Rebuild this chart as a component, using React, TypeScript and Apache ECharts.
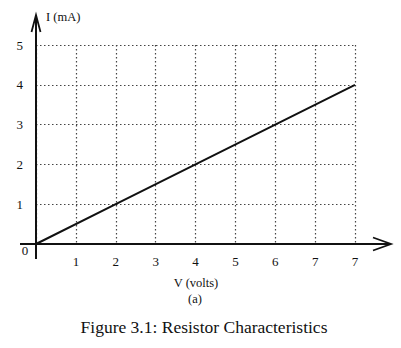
import React, { useEffect, useRef } from "react";
import * as echarts from "echarts";

const voltage = [0, 2, 4, 6, 8];
const current = [0, 1, 2, 3, 4];
const xTickLabels = ["", "1", "2", "3", "4", "5", "6", "7", "7"];
const yTickLabels = ["", "1", "2", "3", "4", "5"];

const SERIF = "'Liberation Serif', 'Times New Roman', serif";

export default function App() {
  const ref = useRef<HTMLDivElement>(null);
  useEffect(() => {
    if (!ref.current) return;
    const chart = echarts.init(ref.current, null, { renderer: "svg" });
    const gl = 36, gt = 45, gw = 319, gh = 199;
    const ax = gl, ay = gt + gh;
    const axisStyle = { stroke: "#111", lineWidth: 2 };
    chart.setOption({
      animation: false,
      backgroundColor: "#fff",
      grid: { left: gl, top: gt, width: gw, height: gh, containLabel: false },
      xAxis: {
        type: "value",
        min: 0,
        max: 8,
        interval: 1,
        axisLine: { show: false },
        axisTick: { show: false },
        splitLine: { show: true, lineStyle: { type: [1.5, 2.5], color: "#444", width: 1.2 } },
        axisLabel: {
          formatter: (v: number) => xTickLabels[Math.round(v)] ?? "",
          fontFamily: SERIF,
          fontSize: 13,
          color: "#111",
          margin: 11,
        },
      },
      yAxis: {
        type: "value",
        min: 0,
        max: 5,
        interval: 1,
        axisLine: { show: false },
        axisTick: { show: false },
        splitLine: { show: true, lineStyle: { type: [1.5, 2.5], color: "#444", width: 1.2 } },
        axisLabel: {
          formatter: (v: number) => yTickLabels[Math.round(v)] ?? "",
          fontFamily: SERIF,
          fontSize: 13,
          color: "#111",
          margin: 13,
          padding: [3, 0, 0, 0],
        },
      },
      series: [
        {
          type: "line",
          data: voltage.map((v, i) => [v, current[i]]),
          symbol: "none",
          lineStyle: { color: "#111", width: 2 },
          z: 5,
        },
      ],
      graphic: [
        { type: "line", z: 10, shape: { x1: ax, y1: ay + 15, x2: ax, y2: 15 }, style: axisStyle },
        { type: "polyline", z: 10, shape: { points: [[ax - 4.5, 32], [ax, 15], [ax + 4.5, 32]] }, style: { stroke: "#111", lineWidth: 1.8, fill: null } },
        { type: "line", z: 10, shape: { x1: 20, y1: ay, x2: 391, y2: ay }, style: axisStyle },
        { type: "polyline", z: 10, shape: { points: [[373, ay - 6.5], [391, ay], [373, ay + 6.5]] }, style: { stroke: "#111", lineWidth: 1.8, fill: null } },
        { type: "text", z: 10, x: 25, y: 250, style: { text: "0", font: `13px ${SERIF}`, fill: "#111", align: "center", verticalAlign: "middle" } },
        { type: "text", z: 10, x: 46, y: 17, style: { text: "I (mA)", font: `12.5px ${SERIF}`, fill: "#111", align: "left", verticalAlign: "middle" } },
        { type: "text", z: 10, x: 196, y: 283, style: { text: "V (volts)", font: `12.5px ${SERIF}`, fill: "#111", align: "center", verticalAlign: "middle" } },
        { type: "text", z: 10, x: 195, y: 299, style: { text: "(a)", font: `12.5px ${SERIF}`, fill: "#111", align: "center", verticalAlign: "middle" } },
        { type: "text", z: 10, x: 204, y: 327, style: { text: "Figure 3.1: Resistor Characteristics", font: `17.5px ${SERIF}`, fill: "#111", align: "center", verticalAlign: "middle" } },
      ],
    });
    return () => chart.dispose();
  }, []);
  return (
    <div
      ref={ref}
      style={{ position: "fixed", left: 0, top: 0, width: 401, height: 348, background: "#fff" }}
    />
  );
}
